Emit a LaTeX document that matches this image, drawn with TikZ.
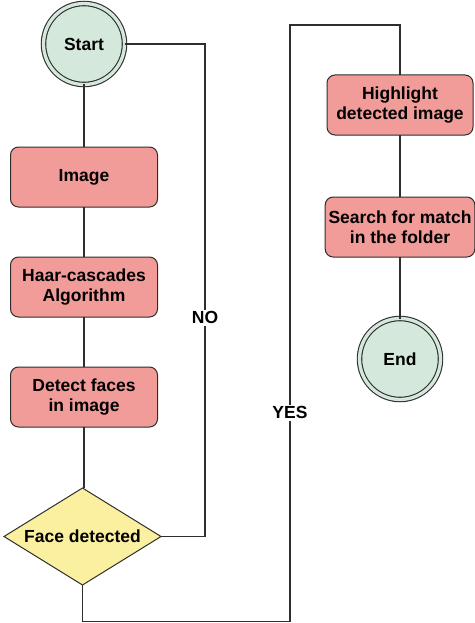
\documentclass[tikz,border=0pt]{standalone}
\usepackage{fontspec}
\setmainfont{Liberation Sans}
\usepackage{xcolor}
\usetikzlibrary{shapes.geometric}
\usetikzlibrary{positioning}

\definecolor{boxred}{HTML}{F19C99}
\definecolor{termgreen}{HTML}{D5E8DC}
\definecolor{decyellow}{HTML}{FBF0A0}
\definecolor{edgegray}{HTML}{2E2E2E}

\begin{document}
\begin{tikzpicture}[
  x=1pt, y=1pt,
  every node/.style={outer sep=0pt, font=\bfseries\fontsize{17.5}{20}\selectfont},
  stepbox/.style={rectangle, rounded corners=8pt, draw=edgegray, line width=1pt,
    fill=boxred, minimum width=147pt, minimum height=60pt, align=center},
  terminal/.style={circle, draw=edgegray, line width=1.1pt, fill=termgreen,
    double=termgreen, double distance=3.3pt, minimum size=81pt},
  decision/.style={diamond, draw=edgegray, line width=1pt, fill=decyellow,
    aspect=1.6, inner sep=0pt, minimum width=157pt, minimum height=97pt},
  flow/.style={draw=edgegray, line width=1.2pt},
  lbl/.style={fill=white, inner sep=2pt}
]

\useasboundingbox (0,0) rectangle (474,-623);

% left column
\node (start) [terminal] at (84,-44) {Start};
\node (image) [stepbox, below=62.5pt of start] {Image};
\node (haar) [stepbox, below=50pt of image] {Haar-cascades\\Algorithm};
\node (detect) [stepbox, below=50pt of haar] {Detect faces\\in image};
\node (face) [decision, below=61pt of detect, xshift=-1.5pt] {Face detected};

% right column
\node (highlight) [stepbox, minimum width=146pt] at (400,-105) {Highlight\\detected image};
\node (search) [stepbox, minimum width=146pt, below=62pt of highlight] {Search for match\\in the folder};
\node (end) [terminal, below=61.5pt of search] {End};

\coordinate (nocorner) at (205,-44);
\coordinate (yesbottom) at (290,-621.5);
\coordinate (yestop) at (290,-25);

\draw[flow] (start) -- (image);
\draw[flow] (image) -- (haar);
\draw[flow] (haar) -- (detect);
\draw[flow] (detect) -- (detect |- face.north);
\draw[flow] (start.east) -- (nocorner) |- node[lbl, pos=0.278] {NO} (face.east);
\draw[flow] (face.south) |- (yesbottom) -- node[lbl, pos=0.35] {YES} (yestop) -| (highlight.north);
\draw[flow] (highlight) -- (search);
\draw[flow] (search) -- (end);

\end{tikzpicture}
\end{document}
